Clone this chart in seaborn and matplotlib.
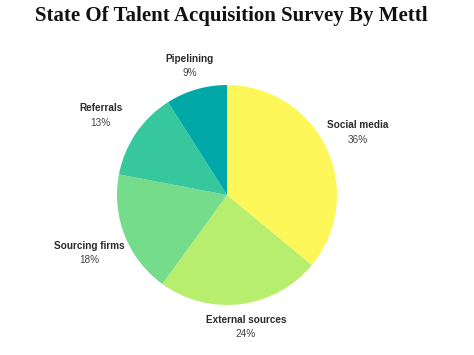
import numpy as np
import matplotlib
matplotlib.use("Agg")
import matplotlib.pyplot as plt
import seaborn as sns

sources = ["Social media", "External sources", "Sourcing firms", "Referrals", "Pipelining"]
shares = [36, 24, 18, 13, 9]
colors = ["#FDF75A", "#B8EE6E", "#74DC8A", "#36C79C", "#00A9A7"]

sns.set_theme(style="white")
plt.rcParams["font.family"] = ["Liberation Sans", "DejaVu Sans"]

fig = plt.figure(figsize=(4.74, 3.55), dpi=100)
# pie circle: centre at (227, 195) px, radius 110 px
ax = fig.add_axes([(227 - 110) / 474, 1 - (195 + 110) / 355, 220 / 474, 220 / 355])
wedges, _ = ax.pie(shares, colors=colors, startangle=90, counterclock=False,
                   wedgeprops=dict(linewidth=0))
ax.set_xlim(-1, 1)
ax.set_ylim(-1, 1)
ax.set_aspect("equal")

# label distance from centre and small angular nudge (degrees)
dists = [1.32, 1.21, 1.36, 1.355, 1.22]
nudges = [0.3, 1.0, 1.2, 2.0, 0.0]
for w, name, val, d, n in zip(wedges, sources, shares, dists, nudges):
    ang = np.deg2rad((w.theta1 + w.theta2) / 2 + n)
    x, y = d * np.cos(ang), d * np.sin(ang)
    ax.text(x, y + 0.065, name, ha="center", va="center", fontsize=7.2,
            fontweight="bold", color="#2b2b2b")
    ax.text(x, y - 0.065, f"{val}%", ha="center", va="center", fontsize=7.2,
            color="#444444")

fig.text(0.487, 1 - 16 / 355, "State Of Talent Acquisition Survey By Mettl",
         ha="center", va="center", fontsize=15, fontweight="bold",
         family=["Liberation Serif", "DejaVu Serif"], color="#111111")

fig.savefig("out.png", dpi=100)
